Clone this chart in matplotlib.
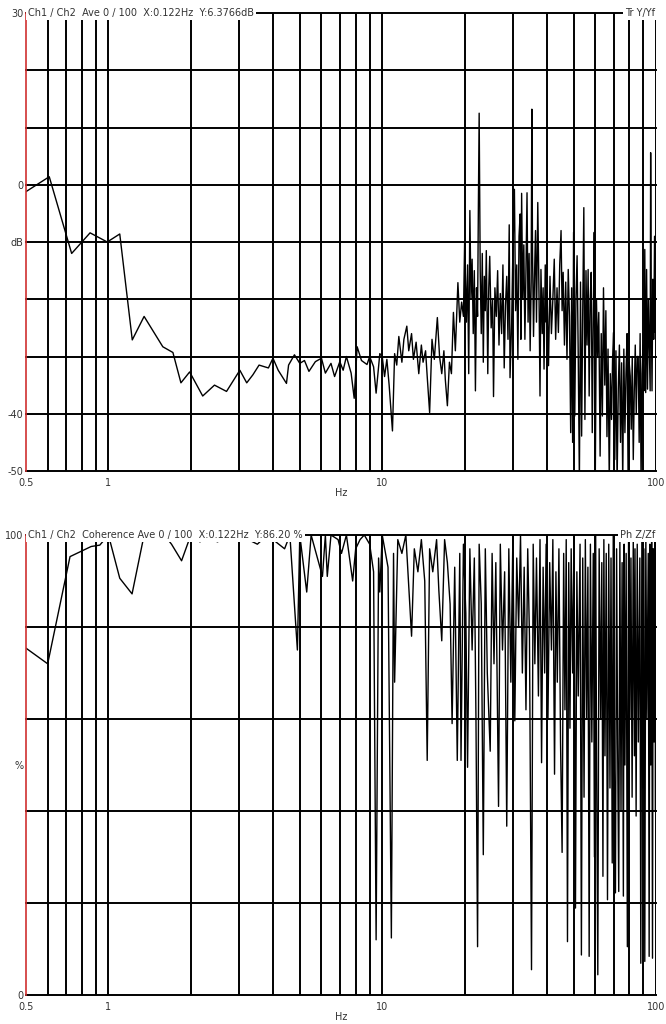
import matplotlib
matplotlib.use("Agg")
import matplotlib.pyplot as plt

# ---------------- Transfer function (dB) ----------------
tr_freq = [0.5, 0.608, 0.734, 0.857, 0.99, 1.10, 1.222, 1.35, 1.58, 1.72, 1.84, 1.98, 2.21, 2.44, 2.70,
           3.02, 3.20, 3.37, 3.55, 3.84, 3.99, 4.17, 4.47, 4.55, 4.78, 5.0, 5.2, 5.4, 5.7, 6.0, 6.2, 6.5,
           6.7, 7.0, 7.2, 7.4, 7.7, 7.9, 8.1, 8.4, 8.8, 9.0, 9.3, 9.5,
           9.8, 10.0, 10.2, 10.4, 10.6, 10.9, 11.1, 11.3, 11.5, 11.8, 12.0, 12.3, 12.5, 12.8, 13.0, 13.3,
           13.6, 13.9, 14.1, 14.4, 14.6, 14.9, 15.2, 15.5, 15.9, 16.2, 16.5, 16.8, 17.0, 17.3, 17.6, 17.9,
           18.2, 18.5, 18.9, 19.2, 19.5, 19.8, 20.0, 20.3, 20.5, 20.7, 20.9, 21.1, 21.3, 21.5, 21.7, 21.9,
           22.1, 22.3, 22.45, 22.6, 22.8, 23.0, 23.2, 23.4, 23.6, 23.8, 24.0, 24.3, 24.5, 24.7, 25.0, 25.3,
           25.5, 25.8, 26.1, 26.4, 26.7, 27.0, 27.3, 27.6, 27.9, 28.2, 28.5, 28.8, 29.1, 29.3, 29.7, 30.0,
           30.4, 30.7, 31.0, 31.3, 31.6, 31.9, 32.1, 32.3, 32.6, 32.9, 33.2, 33.5, 33.8, 34.1, 34.4, 34.7,
           35.0, 35.2, 35.4, 35.7, 36.0, 36.3, 36.6, 37.0, 37.4, 37.7, 38.0, 38.4, 38.7, 39.0, 39.4, 39.7,
           40.0, 40.5, 41.0, 41.5, 42.0, 42.5, 43.0, 43.5, 44.0, 44.5, 45.0, 45.4, 45.8, 46.3, 46.8, 47.3,
           47.8, 48.3, 48.8, 49.2, 49.6, 50.0, 50.5, 51.0, 51.5, 52.0, 52.5, 53.0, 53.5, 54.0, 54.5, 55.0,
           55.5, 56.0, 56.5, 57.0, 57.5, 58.0, 58.5, 59.0, 59.5, 60.0, 60.6, 61.2, 61.8, 62.5, 63.1, 63.7,
           64.3, 65.0, 65.6, 66.2, 66.8, 67.5, 68.1, 68.8, 69.4, 70.0, 70.7, 71.4, 72.1, 72.8, 73.5, 74.2,
           74.9, 75.6, 76.3, 77.0, 77.7, 78.4, 79.1, 79.8, 80.5, 81.2, 81.9, 82.6, 83.3, 84.0, 84.7, 85.4,
           86.1, 86.8, 87.5, 88.2, 88.9, 89.6, 90.3, 91.0, 91.7, 92.4, 93.1, 93.8, 94.5, 95.2, 95.6, 96.0,
           96.7, 97.4, 98.1, 98.8, 99.5, 100.0]
tr_db = [-1.2, 1.4, -12.0, -8.4, -10.0, -8.6, -27.1, -23.0, -28.3, -29.3, -34.6, -32.7, -36.9, -35.0, -36.1,
         -32.4, -34.6, -33.2, -31.5, -32.0, -30.3, -32.4, -34.7, -31.5, -29.7, -31.2, -30.7, -32.6, -30.9, -30.3, -32.9, -31.2,
         -33.5, -30.9, -32.4, -30.0, -32.9, -37.3, -28.3, -30.7, -31.4, -30.0, -31.8, -36.4,
         -29.5, -30.0, -33.5, -30.5, -35.0, -43.0, -29.5, -31.5, -26.5, -31.0, -27.0, -24.7, -29.0, -26.0, -30.5, -27.5,
         -33.0, -28.0, -31.0, -29.0, -33.5, -39.8, -27.0, -30.5, -23.2, -30.0, -33.0, -29.0, -34.0, -38.6, -31.0, -33.0,
         -22.3, -29.0, -17.1, -24.0, -20.5, -23.0, -10.0, -24.0, -14.0, -33.0, -4.5, -20.0, -13.0, -26.0, -15.0, -36.0,
         -18.0, -23.0, -3.8, 12.5, -15.0, -26.0, -12.0, -31.0, -16.0, -22.0, -11.5, -33.0, -18.0, -12.5, -25.0, -20.0,
         -37.0, -18.0, -23.0, -15.0, -28.0, -19.0, -26.0, -14.0, -32.0, -21.0, -16.0, -27.0, -7.0, -33.7, -24.0, -12.0,
         -0.8, -22.0, -14.0, -30.5, -9.0, -5.1, -27.0, -1.5, -20.0, -10.5, -27.0, -15.0, -1.4, -24.0, -12.0, -29.0,
         -17.0, 13.2, -12.0, -26.5, -16.0, -8.0, -24.0, -3.1, -20.0, -36.9, -14.8, -26.0, -18.0, -32.2, -14.0, -24.0,
         -18.8, -31.6, -16.0, -26.0, -20.0, -13.0, -27.0, -18.0, -25.8, -14.0, -8.0, -22.0, -15.3, -28.0, -17.0, -30.5,
         -14.8, -23.0, -43.3, -18.0, -45.0, -8.3, -40.4, -20.0, -12.4, -30.0, -52.0, -17.0, -43.9, -22.0, -4.0, -41.0,
         -15.0, -28.0, -14.8, -36.9, -20.0, -15.3, -43.3, -24.0, -8.3, -52.0, -20.0, -30.0, -22.3, -47.4, -26.0, -40.4,
         -18.0, -35.0, -22.0, -44.0, -28.7, -52.0, -33.0, -41.0, -30.5, -25.8, -48.0, -29.0, -52.0, -36.0, -28.0, -45.0,
         -31.1, -52.0, -28.7, -43.3, -33.0, -26.0, -52.0, -31.0, -33.4, -42.7, -30.0, -48.0, -36.0, -28.0, -40.0, -30.0,
         -30.0, -45.0, -26.0, -52.0, -33.0, -28.0, -36.0, -11.3, -36.3, -14.8, -35.7, -20.0, -28.0, -36.0, 5.6, -18.0,
         -36.0, -16.5, -27.0, -9.0, -25.8, -12.0]

# ---------------- Coherence (%) ----------------
co_freq = [0.5, 0.6, 0.724, 0.865, 0.93, 1.0, 1.10, 1.22, 1.35, 1.5, 1.6, 1.7, 1.85, 2.0, 2.16, 2.3, 2.5, 2.7,
           3.0, 3.5, 3.8, 4.4, 4.6, 4.9, 5.0, 5.3, 5.5, 6.05, 6.2, 6.3, 6.5, 6.9, 7.1, 7.4, 7.8, 8.0, 8.3, 8.6,
           9.0, 9.3, 9.5, 9.7, 9.8, 10.0, 10.5, 10.8, 11.0, 11.1, 11.4, 11.8, 12.2, 12.8, 13.1, 13.5, 13.9,
           14.3, 14.6, 14.9, 15.3, 15.8, 16.1, 16.5, 16.9, 17.3, 17.7, 18.0, 18.4, 18.8, 19.2, 19.4, 19.8,
           20.2, 20.5, 20.9, 21.3, 21.7, 22.0, 22.3, 22.6, 23.0, 23.4, 23.8, 24.2, 24.8, 25.2, 25.6, 26.0,
           26.6, 27.0, 27.5, 28.0, 28.5, 29.0, 29.5, 30.0, 30.5, 31.0, 31.5, 32.0, 32.5, 33.0, 33.5, 34.0,
           34.5, 35.1, 35.6, 36.1, 36.6, 37.2, 37.7, 38.2, 38.7, 39.2, 39.7, 40.3, 40.9, 41.5, 42.0, 42.6,
           43.1, 43.6, 44.2, 44.8, 45.4, 46.0, 46.5, 47.0, 47.5, 48.0, 48.5, 49.0, 49.6, 50.2, 50.8, 51.4,
           52.0, 52.8, 53.4, 54.0, 54.6, 55.2, 55.8, 56.4, 57.0, 57.6, 58.3, 59.0, 59.6, 60.2, 60.7, 61.3,
           62.0, 62.8, 63.4, 64.0, 64.5, 65.1, 65.8, 66.5, 67.2, 67.9, 68.5, 69.2, 69.8, 70.4, 71.1, 71.8,
           72.4, 73.1, 73.8, 74.5, 75.2, 76.0, 76.5, 77.0, 77.8, 78.6, 79.4, 80.3, 81.0, 81.8, 82.6, 83.4,
           83.8, 84.6, 85.4, 86.2, 87.3, 88.0, 88.8, 89.6, 90.3, 91.0, 91.8, 92.6, 93.7, 94.4, 95.0, 95.7,
           96.4, 97.1, 97.7, 98.4, 99.1, 99.6, 100.0]
co_pct = [75.4, 72.0, 95.3, 97.5, 97.8, 100.0, 90.6, 87.2, 100.0, 99.0, 100.0, 98.0, 94.4, 100.0, 98.5, 100.0, 98.5, 99.5,
          100.0, 98.0, 100.0, 97.0, 100.0, 75.0, 100.0, 87.6, 100.0, 91.0, 100.0, 91.0, 100.0, 99.0, 96.0, 100.0, 90.0, 97.0, 99.0, 100.0,
          98.0, 92.0, 12.0, 95.0, 87.6, 100.0, 93.0, 12.4, 96.0, 68.0, 99.0, 96.0, 100.0, 78.0, 97.0, 92.0, 99.0,
          90.0, 51.0, 97.0, 92.0, 99.0, 88.0, 77.0, 99.0, 94.0, 85.0, 59.0, 93.0, 51.0, 96.0, 51.0, 98.0,
          83.0, 49.5, 97.0, 75.0, 95.0, 60.0, 10.5, 98.0, 85.0, 30.5, 97.0, 70.0, 53.0, 96.0, 72.0, 94.0,
          41.0, 98.0, 75.0, 92.0, 36.7, 97.0, 68.0, 99.0, 59.6, 95.0, 80.0, 100.0, 70.0, 93.0, 62.0, 97.0,
          78.0, 5.5, 98.0, 72.0, 95.0, 65.0, 99.0, 50.5, 93.0, 70.0, 98.0, 60.0, 94.0, 75.0, 99.0, 48.0,
          92.0, 68.0, 97.0, 55.0, 31.0, 96.0, 62.0, 99.0, 11.6, 94.0, 58.0, 97.0, 70.0, 100.0, 18.9, 92.0,
          65.0, 98.0, 8.7, 95.0, 43.0, 99.0, 60.0, 93.0, 8.4, 98.0, 55.0, 96.0, 30.0, 100.0, 48.0, 4.4,
          97.0, 60.0, 94.0, 25.8, 99.0, 52.0, 96.0, 20.7, 98.0, 45.0, 95.0, 28.7, 100.0, 50.0, 22.2, 97.0,
          55.0, 22.5, 99.0, 40.0, 94.0, 21.5, 98.0, 50.0, 96.0, 10.5, 99.0, 60.0, 95.0, 43.0, 100.0, 52.0,
          97.0, 38.9, 98.0, 55.0, 95.0, 6.9, 99.0, 45.0, 97.0, 7.3, 100.0, 60.0, 96.0, 8.4, 98.0, 50.0,
          99.0, 8.0, 97.0, 55.0, 100.0, 40.0, 95.0]

x_grid = [0.6, 0.7, 0.8, 0.9, 1, 2, 3, 4, 5, 6, 7, 8, 9, 10, 20, 30, 40, 50, 60, 70, 80, 90, 100]
tr_ygrid = [30, 20, 10, 0, -10, -20, -30, -40, -50]
tr_yticks = [30, 0, -10, -40, -50]
tr_ylabels = ['30', '0', 'dB', '-40', '-50']
co_ygrid = [0, 20, 40, 60, 80, 100]
co_yticks = [0, 50, 100]
co_ylabels = ['0', '%', '100']
xticks = [0.5, 1, 10, 100]
xlabels = ['0.5', '1', '10', '100']

fig = plt.figure(figsize=(6.66, 10.24), dpi=100)
FS = 7
GRID_LW = 1.4


def setup(ax, ymin, ymax, ygrid, yticks, ylabels, title, tag):
    ax.set_xscale('log')
    ax.set_xlim(0.5, 100)
    ax.set_ylim(ymin, ymax)
    for s in ['top', 'right', 'bottom']:
        ax.spines[s].set_visible(False)
    ax.spines['left'].set_color('#d03030')
    ax.spines['left'].set_linewidth(1.2)
    ax.spines['left'].set_zorder(5)
    for g in x_grid:
        ax.axvline(g, color='black', lw=GRID_LW, zorder=1)
    for g in ygrid:
        ax.axhline(g, color='black', lw=GRID_LW, zorder=1, clip_on=False)
    ax.set_xticks(xticks)
    ax.set_xticklabels(xlabels, fontsize=FS, color='#333333')
    ax.xaxis.set_minor_locator(matplotlib.ticker.NullLocator())
    ax.set_yticks(yticks)
    ax.set_yticklabels(ylabels, fontsize=FS, color='#333333')
    ax.tick_params(axis='y', length=0, pad=2)
    ax.tick_params(axis='x', length=0, pad=5)
    ax.set_xlabel('Hz', fontsize=FS, color='#333333', labelpad=0)
    ax.text(0.003, 1.0, title, transform=ax.transAxes, fontsize=FS, color='#333333',
            ha='left', va='center', zorder=10,
            bbox=dict(facecolor='white', edgecolor='none', pad=1.5))
    ax.text(0.999, 1.0, tag, transform=ax.transAxes, fontsize=FS, color='#333333',
            ha='right', va='center', zorder=10,
            bbox=dict(facecolor='white', edgecolor='none', pad=1.5))


ax1 = fig.add_axes([26 / 666, 1 - 471 / 1024, 630 / 666, 458 / 1024])
setup(ax1, -50, 30, tr_ygrid, tr_yticks, tr_ylabels,
      'Ch1 / Ch2  Ave 0 / 100  X:0.122Hz  Y:6.3766dB', 'Tr Y/Yf')
ax1.plot(tr_freq, tr_db, color='black', lw=1.0, zorder=3)

ax2 = fig.add_axes([26 / 666, 1 - 995 / 1024, 630 / 666, 460 / 1024])
setup(ax2, 0, 100, co_ygrid, co_yticks, co_ylabels,
      'Ch1 / Ch2  Coherence Ave 0 / 100  X:0.122Hz  Y:86.20 %', 'Ph Z/Zf')
ax2.plot(co_freq, co_pct, color='black', lw=1.0, zorder=3)

fig.savefig('out.png', dpi=100)
